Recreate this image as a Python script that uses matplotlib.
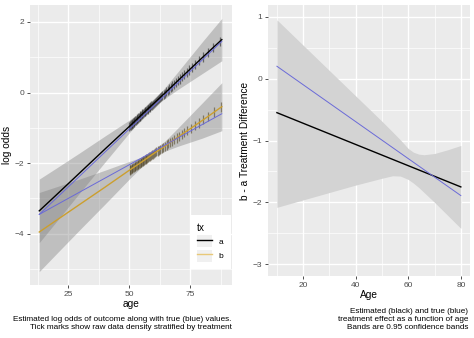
import matplotlib
matplotlib.use("Agg")
import matplotlib.pyplot as plt
import matplotlib.ticker as ticker
from matplotlib.lines import Line2D
from matplotlib.patches import Patch
import numpy as np

plt.rcParams["font.family"] = ["Liberation Sans", "DejaVu Sans"]

# left panel: estimated log odds by treatment
ageGrid = [13, 20, 30, 40, 50, 55, 60, 65, 70, 80, 88]
fitA = [-3.35, -2.90, -2.25, -1.60, -0.96, -0.63, -0.31, 0.01, 0.34, 0.99, 1.50]
lowerA = [-4.25, -3.66, -2.81, -1.97, -1.14, -0.73, -0.40, -0.15, 0.09, 0.54, 0.90]
upperA = [-2.45, -2.14, -1.69, -1.23, -0.78, -0.53, -0.22, 0.17, 0.59, 1.44, 2.10]
fitB = [-3.95, -3.62, -3.15, -2.68, -2.20, -1.97, -1.73, -1.50, -1.26, -0.79, -0.40]
lowerB = [-5.07, -4.57, -3.86, -3.16, -2.45, -2.11, -1.83, -1.65, -1.52, -1.29, -1.08]
upperB = [-2.83, -2.67, -2.44, -2.20, -1.95, -1.83, -1.63, -1.35, -1.00, -0.29, 0.28]
trueAge = [13, 88]
trueA = [-3.45, 1.45]
trueB = [-3.45, -0.60]

# raw ages for the tick marks
rugAgeA = [50.0, 50.3, 50.6, 50.9, 51.2, 51.5, 51.8, 52.1, 52.4, 52.7, 53.0, 53.3, 53.6,
           53.9, 54.2, 54.5, 54.8, 55.1, 55.4, 55.7, 56.0, 56.3, 56.6, 56.9, 57.2, 57.5,
           57.8, 58.1, 58.4, 58.7, 59.0, 59.3, 59.7, 60.1, 60.5, 60.9, 61.3, 61.7, 62.1,
           62.6, 63.1, 63.6, 64.1, 64.6, 65.2, 65.8, 66.4, 67.0, 67.7, 68.4, 69.1, 69.9,
           70.7, 71.6, 72.5, 73.5, 74.6, 75.8, 77.1, 78.6, 80.3, 82.2, 84.5, 87.3]
rugAgeB = [50.1, 50.4, 50.7, 51.0, 51.3, 51.6, 51.9, 52.2, 52.5, 52.8, 53.1, 53.4, 53.7,
           54.0, 54.3, 54.6, 54.9, 55.2, 55.5, 55.8, 56.1, 56.4, 56.7, 57.0, 57.3, 57.7,
           58.1, 58.5, 58.9, 59.3, 59.7, 60.1, 60.6, 61.1, 61.6, 62.1, 62.7, 63.3, 63.9,
           64.6, 65.3, 66.0, 66.8, 67.6, 68.5, 69.4, 70.4, 71.5, 72.6, 73.9, 75.3, 76.8,
           78.5, 80.4, 82.5, 84.9, 87.8]

# right panel: treatment difference
diffAge = [10, 80]
diffFit = [-0.55, -1.75]
bandAge = [10, 20, 30, 40, 50, 54, 57, 60, 62, 64, 66, 68, 70, 75, 80]
diffLower = [-2.08, -1.96, -1.84, -1.72, -1.61, -1.57, -1.575, -1.63, -1.69, -1.76,
             -1.84, -1.92, -2.00, -2.21, -2.42]
diffUpper = [0.95, 0.54, 0.13, -0.28, -0.69, -0.86, -0.99, -1.13, -1.19, -1.22,
             -1.23, -1.22, -1.21, -1.15, -1.08]
diffTrueAge = [10, 80]
diffTrue = [0.20, -1.89]

orange = "#CC9F2E"
blue = "#6A6AD8"
panelColor = "#EBEBEB"


def styleAxes(axes):
    axes.set_facecolor(panelColor)
    for spine in axes.spines.values():
        spine.set_visible(False)
    axes.grid(which = "major", color = "white", linewidth = 1.0)
    axes.grid(which = "minor", color = "white", linewidth = 0.5)
    axes.set_axisbelow(True)
    axes.tick_params(which = "major", length = 2.5, width = 0.6, color = "#333333",
                     labelcolor = "#4D4D4D", labelsize = 6, pad = 1.5)
    axes.tick_params(which = "minor", length = 0)


figure = plt.figure(figsize = (4.74, 3.38), dpi = 100)

# ---- left panel
axes = figure.add_axes([0.0633, 0.1568, 0.4262, 0.8284])
styleAxes(axes)
axes.fill_between(ageGrid, lowerA, upperA, color = "#7F7F7F", alpha = 0.4, linewidth = 0)
axes.fill_between(ageGrid, lowerB, upperB, color = "#7F7F7F", alpha = 0.4, linewidth = 0)
yRugA = np.interp(rugAgeA, ageGrid, fitA)
yRugB = np.interp(rugAgeB, ageGrid, fitB)
axes.vlines(rugAgeA, yRugA - 0.13, yRugA + 0.13, color = "#2A2A2A", linewidth = 0.9, alpha = 0.6)
axes.vlines(rugAgeB, yRugB - 0.13, yRugB + 0.13, color = "#54482A", linewidth = 0.9, alpha = 0.6)
axes.plot(ageGrid, fitA, color = "black", linewidth = 1.0)
axes.plot(ageGrid, fitB, color = orange, linewidth = 1.0)
axes.plot(trueAge, trueA, color = blue, linewidth = 0.7)
axes.plot(trueAge, trueB, color = blue, linewidth = 0.7)
axes.set_xlim(9.2, 92.2)
axes.set_ylim(-5.45, 2.48)
axes.xaxis.set_major_locator(ticker.FixedLocator([25, 50, 75]))
axes.xaxis.set_minor_locator(ticker.FixedLocator([12.5, 37.5, 62.5, 87.5]))
axes.yaxis.set_major_locator(ticker.FixedLocator([-4, -2, 0, 2]))
axes.yaxis.set_minor_locator(ticker.FixedLocator([-5, -3, -1, 1]))
axes.set_xlabel("age", fontsize = 7.3, labelpad = 1)
axes.set_ylabel("log odds", fontsize = 7.3, labelpad = 2)
handles = [
    (Patch(facecolor = "#F0F0F0", edgecolor = "none"), Line2D([], [], color = "black", linewidth = 1.0)),
    (Patch(facecolor = "#F0F0F0", edgecolor = "none"), Line2D([], [], color = "#E8C878", linewidth = 1.0)),
]
legend = axes.legend(handles, ["a", "b"], title = "tx", loc = "lower right",
                     bbox_to_anchor = (0.995, 0.057), fontsize = 6, title_fontsize = 7.3,
                     frameon = True, fancybox = False, handlelength = 1.8, handleheight = 1.8,
                     handletextpad = 0.8, labelspacing = 0.3, borderpad = 0.9, borderaxespad = 0)
legend.get_frame().set_facecolor("white")
legend.get_frame().set_edgecolor("none")
legend.get_frame().set_alpha(1)
legend._legend_box.align = "left"
figure.text(0.489, 0.022, "Estimated log odds of outcome along with true (blue) values.\n"
            "Tick marks show raw data density stratified by treatment",
            ha = "right", va = "bottom", fontsize = 5.85, linespacing = 1.15, color = "black")

# ---- right panel
axes = figure.add_axes([0.5648, 0.1834, 0.4268, 0.8018])
styleAxes(axes)
axes.fill_between(bandAge, diffLower, diffUpper, color = "#D3D3D3", linewidth = 0)
axes.plot(diffAge, diffFit, color = "black", linewidth = 1.0)
axes.plot(diffTrueAge, diffTrue, color = blue, linewidth = 0.7)
axes.set_xlim(6.5, 83.5)
axes.set_ylim(-3.19, 1.19)
axes.xaxis.set_major_locator(ticker.FixedLocator([20, 40, 60, 80]))
axes.xaxis.set_minor_locator(ticker.FixedLocator([10, 30, 50, 70]))
axes.yaxis.set_major_locator(ticker.FixedLocator([-3, -2, -1, 0, 1]))
axes.yaxis.set_minor_locator(ticker.FixedLocator([-2.5, -1.5, -0.5, 0.5]))
axes.set_xlabel("Age", fontsize = 7.3, labelpad = 1)
axes.set_ylabel("b - a Treatment Difference", fontsize = 7.3, labelpad = 2)
figure.text(0.988, 0.022, "Estimated (black) and true (blue)\n"
            "treatment effect as a function of age\n"
            "Bands are 0.95 confidence bands",
            ha = "right", va = "bottom", fontsize = 5.9, linespacing = 1.15, color = "black")

figure.savefig("out.png", dpi = 100)
